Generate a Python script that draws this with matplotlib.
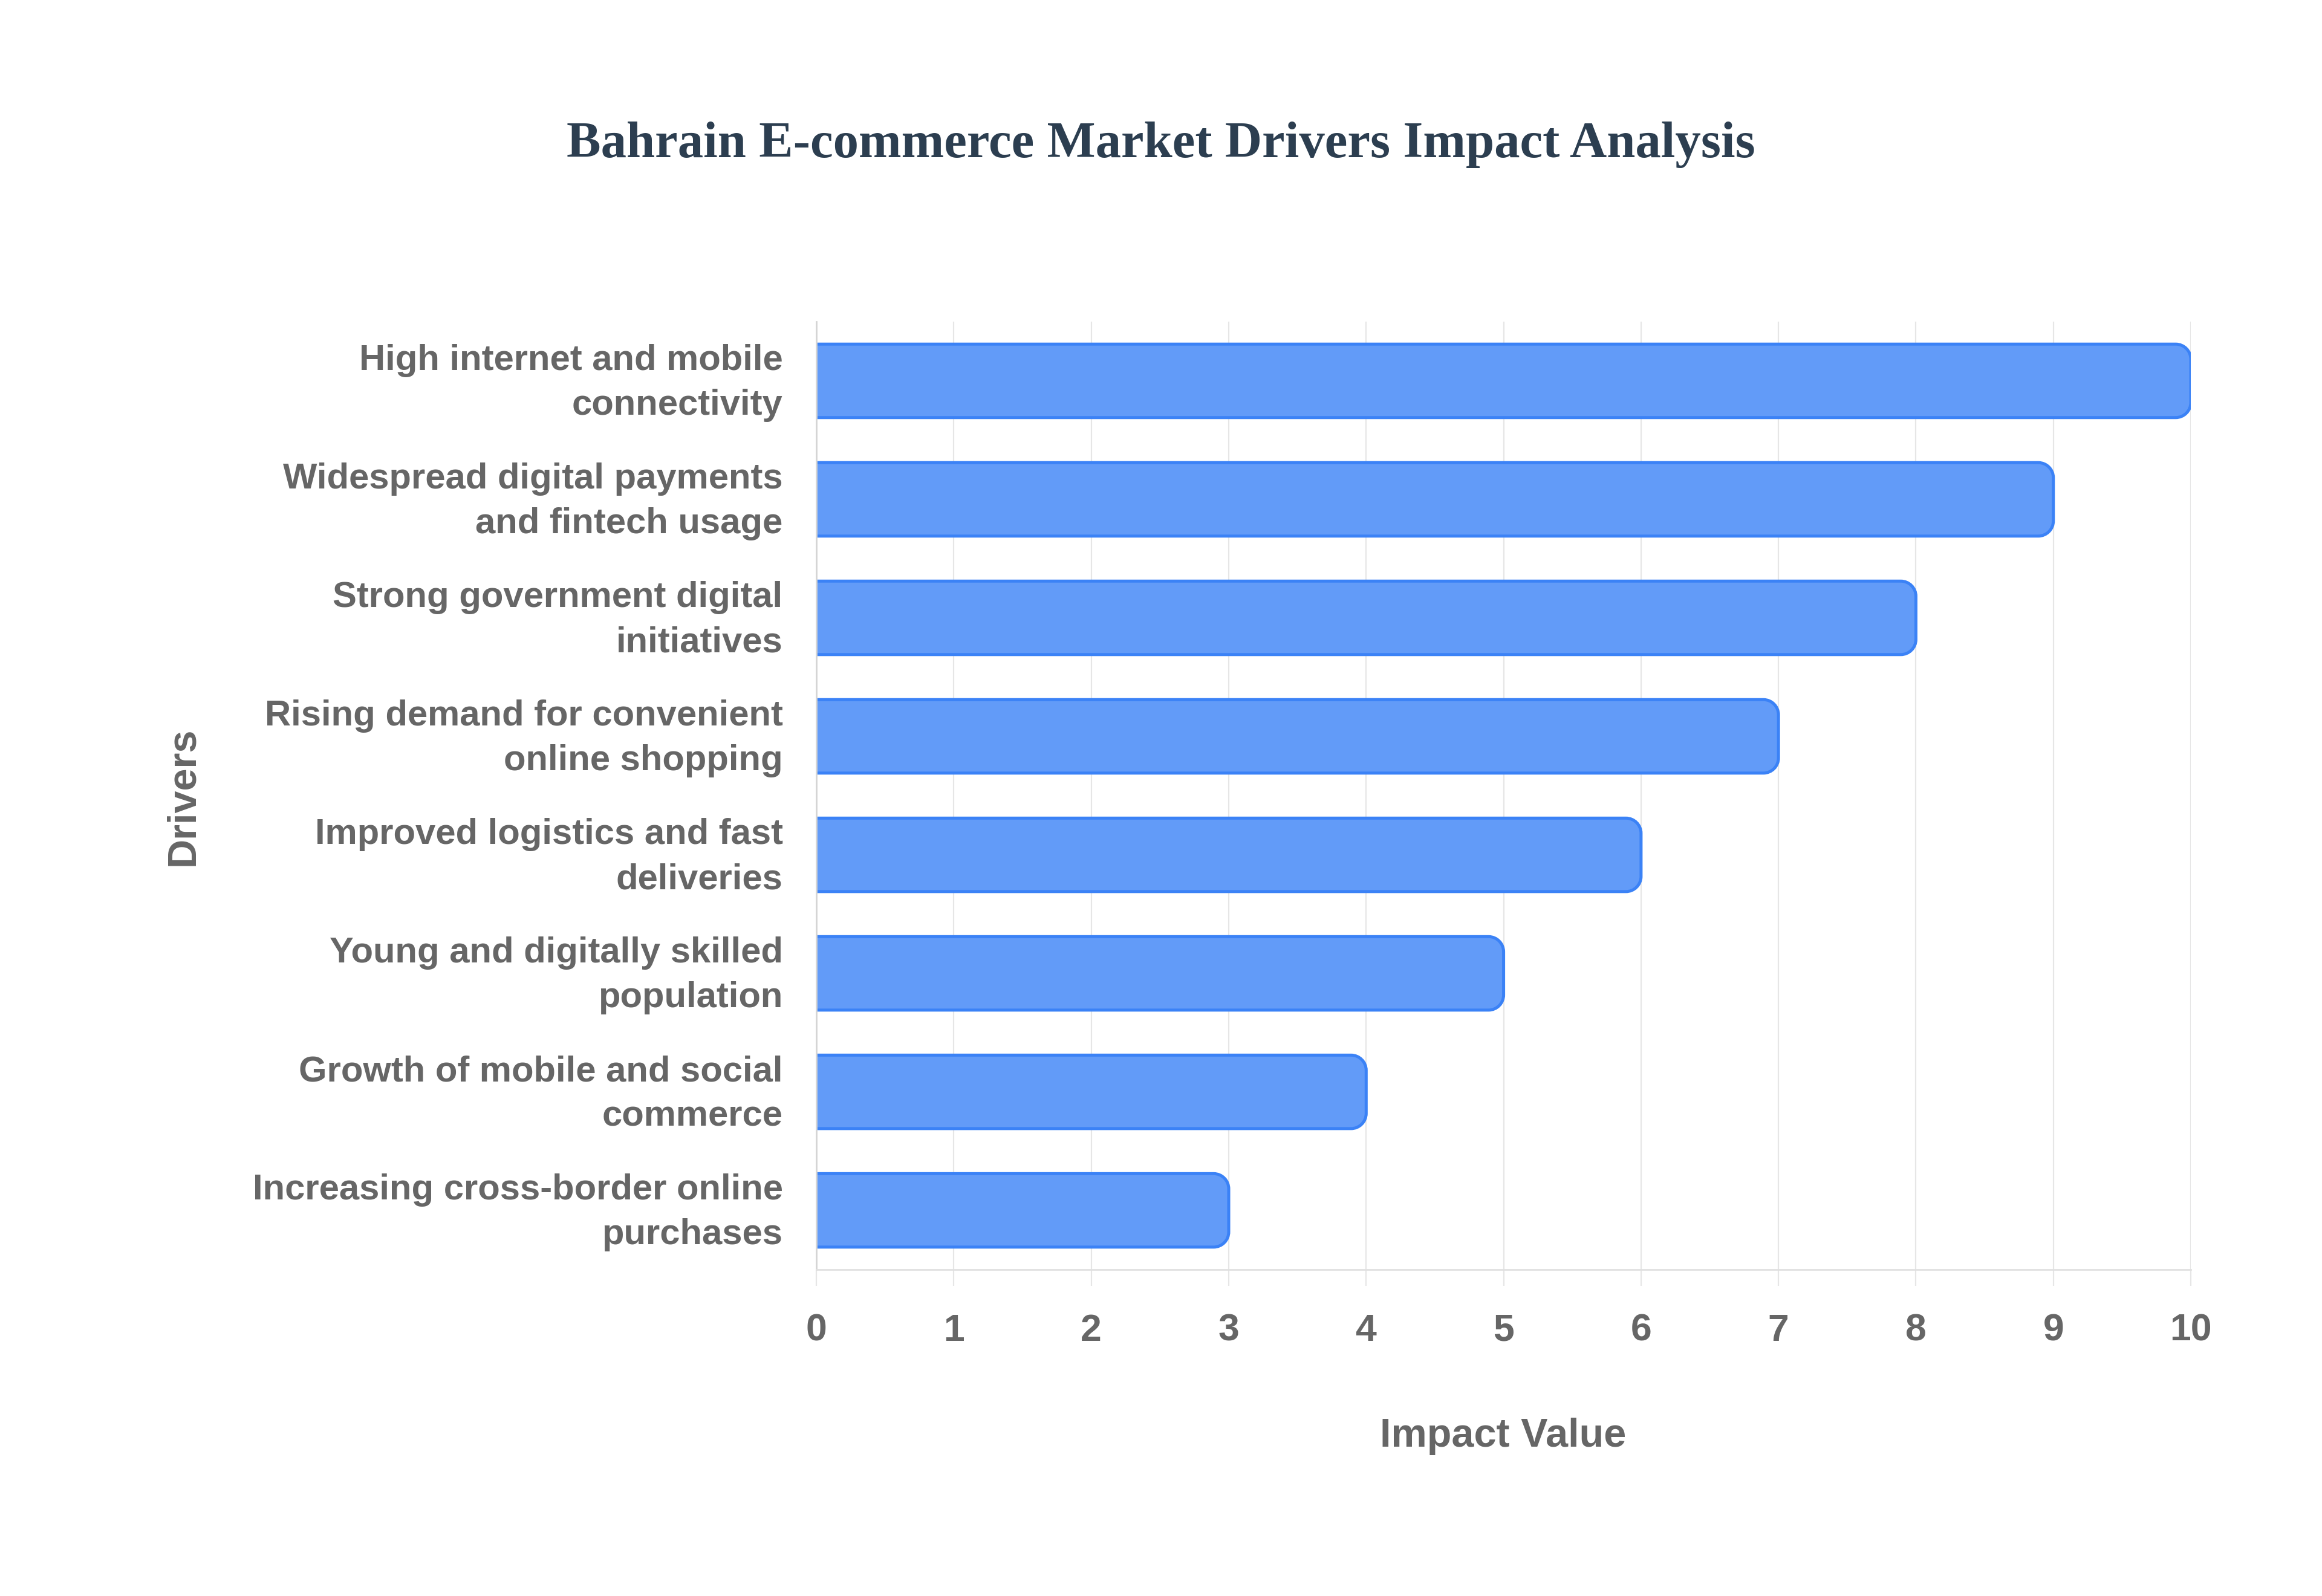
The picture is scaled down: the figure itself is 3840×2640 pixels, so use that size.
import numpy as np
import matplotlib.pyplot as plt
from matplotlib.path import Path
from matplotlib.patches import PathPatch
from matplotlib.transforms import ScaledTranslation

plt.rcParams['font.family'] = ['Liberation Sans', 'DejaVu Sans']
plt.rcParams['font.weight'] = 'bold'

title = "Bahrain E-commerce Market Drivers Impact Analysis"
drivers = [
    "High internet and mobile\nconnectivity",
    "Widespread digital payments\nand fintech usage",
    "Strong government digital\ninitiatives",
    "Rising demand for convenient\nonline shopping",
    "Improved logistics and fast\ndeliveries",
    "Young and digitally skilled\npopulation",
    "Growth of mobile and social\ncommerce",
    "Increasing cross-border online\npurchases",
]
impact = [10, 9, 8, 7, 6, 5, 4, 3]
xticks = [0, 1, 2, 3, 4, 5, 6, 7, 8, 9, 10]

fill_col = '#629bf8'
edge_col = '#3b82f6'
grid_col = '#e6e6e6'
text_col = '#666666'

fig = plt.figure(figsize=(19.2, 13.2), dpi=200)
ax = fig.add_axes([0.3516, 0.2045, 0.5919, 0.594])

pos = np.arange(len(drivers))
bars = ax.barh(pos, impact, height=0.62, color=fill_col)
ax.set_xlim(0, 10)
ax.set_ylim(len(drivers) - 0.5, -0.5)

# swap the plain rectangles for ones with rounded right end
rx, ry = 0.11, 0.128
k = 0.5523
for b in bars:
    x0, y0 = b.get_x(), b.get_y()
    x1, y1 = x0 + b.get_width(), y0 + b.get_height()
    b.set_visible(False)
    verts = [(x0, y0), (x1 - rx, y0),
             (x1 - rx + k * rx, y0), (x1, y0 + ry - k * ry), (x1, y0 + ry),
             (x1, y1 - ry),
             (x1, y1 - ry + k * ry), (x1 - rx + k * rx, y1), (x1 - rx, y1),
             (x0, y1)]
    codes = [Path.MOVETO, Path.LINETO,
             Path.CURVE4, Path.CURVE4, Path.CURVE4,
             Path.LINETO,
             Path.CURVE4, Path.CURVE4, Path.CURVE4,
             Path.LINETO]
    ax.add_patch(PathPatch(Path(verts + [(x0, y0)], codes + [Path.CLOSEPOLY]),
                           facecolor=fill_col, edgecolor='none', zorder=2))
    ax.add_patch(PathPatch(Path(verts, codes), facecolor='none',
                           edgecolor=edge_col, linewidth=1.8, zorder=2.2))

ax.set_yticks(pos)
ax.set_yticklabels(drivers, linespacing=1.45)
ax.set_xticks(xticks)
ax.xaxis.grid(True, color=grid_col, linewidth=0.8)
ax.set_axisbelow(True)

ax.tick_params(axis='x', length=9.7, width=0.8, color=grid_col, pad=16,
               labelsize=22.5, labelcolor=text_col)
ax.tick_params(axis='y', length=0, pad=20, labelsize=21.5, labelcolor=text_col)

# nudge the two-line labels up a little
shift = ScaledTranslation(0, 0.06, fig.dpi_scale_trans)
for lbl in ax.get_yticklabels():
    lbl.set_transform(lbl.get_transform() + shift)

for s in ['top', 'right']:
    ax.spines[s].set_visible(False)
ax.spines['left'].set_color('#d4d4d4')
ax.spines['bottom'].set_color('#e0e0e0')
ax.spines['left'].set_linewidth(1.0)
ax.spines['bottom'].set_linewidth(1.0)

fig.text(0.5, 0.9015, title, ha='center', va='baseline', fontsize=30.5,
         fontweight='bold', family=['Liberation Serif', 'DejaVu Serif'],
         color='#2c3e50')
fig.text(0.0789, 0.501, "Drivers", rotation=90, ha='center', va='center',
         fontsize=24, color=text_col)
fig.text(0.6474, 0.1, "Impact Value", ha='center', va='center',
         fontsize=24, color=text_col)

fig.savefig('out.png', dpi=200, facecolor='white')
